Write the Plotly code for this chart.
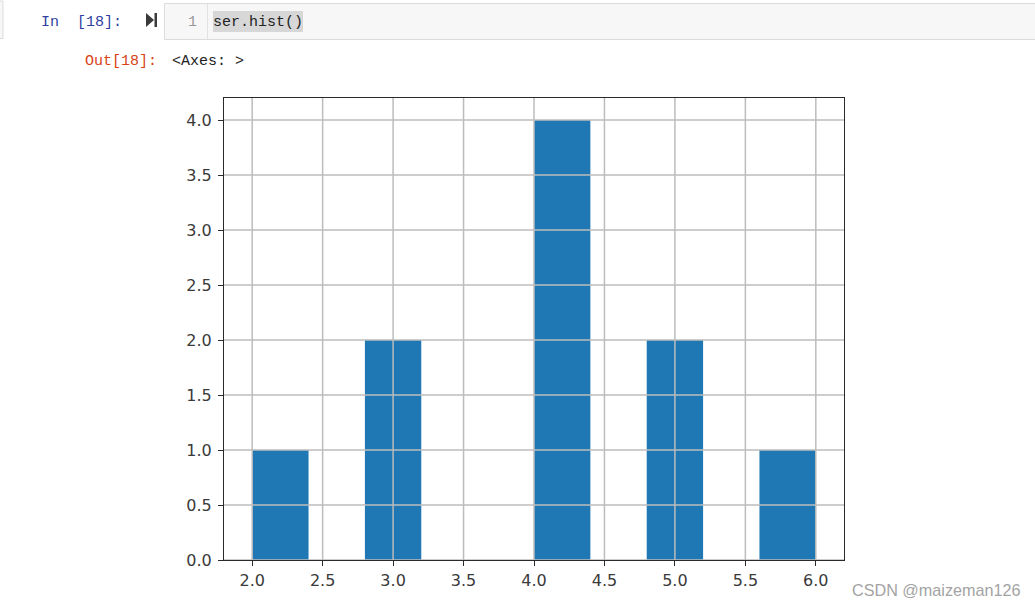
import plotly.graph_objects as go

W, H = 1035, 606
PL, PR, PT, PB = 224, 844, 98, 560

bin_lefts = [2.0, 2.4, 2.8, 3.2, 3.6, 4.0, 4.4, 4.8, 5.2, 5.6]
counts = [1, 0, 2, 0, 0, 4, 0, 2, 0, 1]
bin_width = 0.4
x_ticks = [2.0, 2.5, 3.0, 3.5, 4.0, 4.5, 5.0, 5.5, 6.0]
y_ticks = [0.0, 0.5, 1.0, 1.5, 2.0, 2.5, 3.0, 3.5, 4.0]

GRID = "#bcbcbc"
AXIS = "#2a2a2a"
TEXT = "#3a3a3a"
BLUE = "#1f77b4"
MONO = "Liberation Mono, DejaVu Sans Mono, monospace"


def px(x):
    return (x - PL) / (PR - PL)


def py(y):
    return (PB - y) / (PB - PT)


fig = go.Figure(
    go.Bar(
        x=bin_lefts,
        y=counts,
        width=bin_width,
        offset=0,
        marker=dict(color=BLUE, line=dict(width=0)),
        hoverinfo="skip",
    )
)

shapes = []
# matplotlib-style grid drawn above the bars
for t in x_ticks:
    shapes.append(dict(type="line", xref="x", yref="paper", x0=t, x1=t, y0=0, y1=1,
                       line=dict(color=GRID, width=1.5), layer="above"))
for t in y_ticks:
    shapes.append(dict(type="line", xref="paper", yref="y", x0=0, x1=1, y0=t, y1=t,
                       line=dict(color=GRID, width=1.5), layer="above"))


def rect(x0, y0, x1, y1, fill, line=None):
    return dict(type="rect", xref="paper", yref="paper", x0=px(x0), x1=px(x1), y0=py(y0), y1=py(y1),
                fillcolor=fill, line=dict(color=line or fill, width=1 if line else 0), layer="below")


# notebook chrome
shapes.append(rect(164.5, 3.5, 1040, 39.5, "#f7f7f7", "#dcdcdc"))
shapes.append(dict(type="line", xref="paper", yref="paper", x0=px(207.5), x1=px(207.5), y0=py(4), y1=py(39),
                   line=dict(color="#e2e2e2", width=1), layer="below"))
shapes.append(rect(213, 11, 303, 32, "#d7d7d7"))
shapes.append(rect(-2, 1, 3, 38.5, "#f7f7f7", "#dcdcdc"))
shapes.append(dict(type="path", xref="paper", yref="paper",
                   path=f"M {px(146)} {py(13)} L {px(154)} {py(20)} L {px(146)} {py(27)} Z",
                   fillcolor="#3a3a3a", line=dict(width=0)))
shapes.append(rect(154.5, 13, 157, 27, "#3a3a3a"))

annotations = [
    dict(text="In", x=px(41), y=py(23), font=dict(family=MONO, size=15, color="#303F9F")),
    dict(text="[18]:", x=px(77), y=py(23), font=dict(family=MONO, size=15, color="#303F9F")),
    dict(text="1", x=px(188), y=py(23), font=dict(family=MONO, size=15, color="#999999")),
    dict(text="ser.hist()", x=px(213), y=py(23), font=dict(family=MONO, size=15, color="#222222")),
    dict(text="Out[18]:", x=px(85), y=py(61), font=dict(family=MONO, size=15, color="#D84315")),
    dict(text="&lt;Axes: &gt;", x=px(172), y=py(61), font=dict(family=MONO, size=15, color="#222222")),
    dict(text="CSDN @maizeman126", x=px(852), y=py(590),
         font=dict(family="Liberation Sans, Arial, sans-serif", size=16.2, color="#a3a3a3")),
]
for a in annotations:
    a.update(xref="paper", yref="paper", xanchor="left", yanchor="middle", showarrow=False,
             borderpad=0, borderwidth=0)

axis_common = dict(
    showgrid=False,
    zeroline=False,
    showline=True,
    mirror=True,
    linecolor=AXIS,
    linewidth=1.2,
    ticks="outside",
    ticklen=5,
    tickwidth=1.2,
    tickcolor=AXIS,
    tickformat=".1f",
    layer="above traces",
    tickfont=dict(family="DejaVu Sans, sans-serif", size=16, color=TEXT),
    fixedrange=True,
)

fig.update_layout(
    width=W,
    height=H,
    autosize=False,
    paper_bgcolor="white",
    plot_bgcolor="white",
    showlegend=False,
    margin=dict(l=PL, r=W - PR, t=PT, b=H - PB, pad=0),
    xaxis=dict(range=[1.8, 6.2], tickvals=x_ticks, ticklabelstandoff=1, **axis_common),
    yaxis=dict(range=[0, 4.2], tickvals=y_ticks, ticklabelstandoff=3, **axis_common),
    shapes=shapes,
    annotations=annotations,
)

fig.write_html(
    "out.html",
    config={"displayModeBar": False},
    post_script="document.body.style.margin='0';document.body.style.overflow='hidden';",
)
